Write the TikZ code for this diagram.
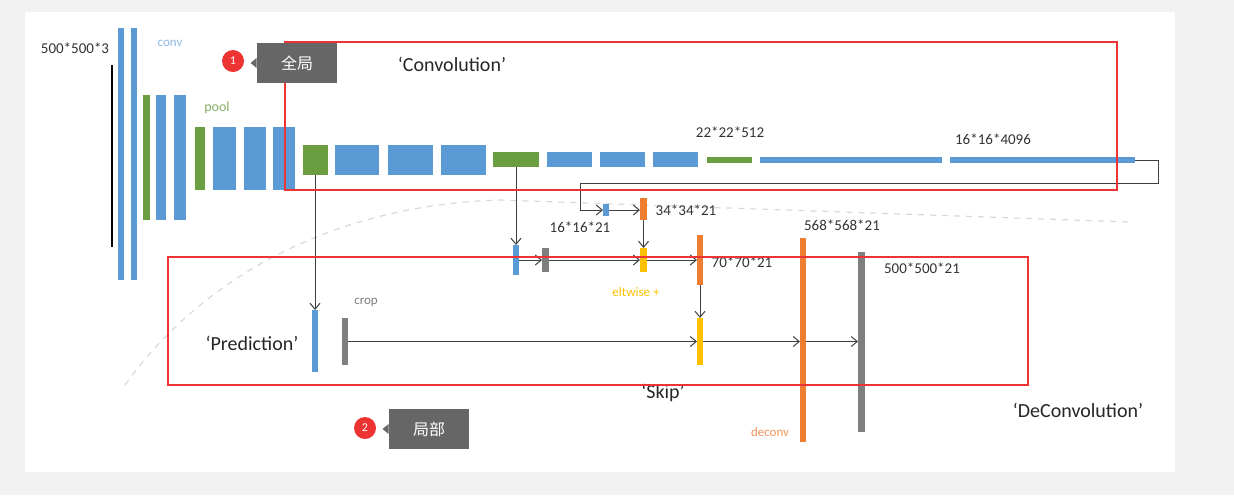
\documentclass[tikz,border=0pt]{standalone}
\usepackage{fontspec}
\setmainfont{Carlito}
\newfontfamily\cjk{Noto Sans CJK SC}
\usetikzlibrary{arrows.meta}
\definecolor{cb}{HTML}{5B9BD5}
\definecolor{cg}{HTML}{6A9E40}
\definecolor{co}{HTML}{ED7D31}
\definecolor{cy}{HTML}{FFC000}
\definecolor{cgr}{HTML}{7F7F7F}
\definecolor{cr}{HTML}{EE3333}
\definecolor{badge}{HTML}{666666}
\newcommand\bx[6]{\node[fill=#6,inner sep=0pt,outer sep=0pt,minimum width={(#4-#2)*0.5pt},minimum height={(#5-#3)*0.5pt}] (#1) at ({(#2+#4)/2},{(#3+#5)/2}) {};}
\begin{document}
\begin{tikzpicture}[x=0.5pt,y=-0.5pt,
  lab/.style={font=\fontsize{7.5}{8}\selectfont,text=black!80},
  big/.style={font=\fontsize{10}{11}\selectfont,text=black!85},
  arr/.style={draw=black!75,line width=0.5pt,-{Straight Barb[length=3pt,width=5pt]}},
  red box/.style={draw=cr,line width=1pt},
  badgebox/.style={fill=badge,text=white,font=\cjk\fontsize{8}{9}\selectfont,minimum width=40pt,minimum height=20pt,inner sep=0pt},
  num/.style={circle,fill=cr,text=white,font=\fontsize{6}{7}\selectfont,minimum size=11pt,inner sep=0pt}]
\useasboundingbox (0,0) rectangle (1234,495);
\fill[black!5] (0,0) rectangle (1234,495);
\fill[white] (25,12) rectangle (1175,472);
% dashed curve
\draw[black!15,dashed,line width=0.6pt] (125,385) .. controls (200,280) and (330,205) .. (500,200) -- (1130,222);
% input
\node[lab] (in) at (75,48) {500*500*3};
\coordinate (k1) at (112,65); \coordinate (k2) at (112,247);
\draw[line width=1pt] (k1) -- (k2);
\bx{c1}{118}{28}{124}{280}{cb} \bx{c2}{131}{28}{137}{280}{cb}
\node[font=\fontsize{6.5}{7}\selectfont,text=cb!70] (convl) at (170,43) {conv};
\bx{p1}{143}{95}{150}{220}{cg} \bx{c3}{156}{95}{166}{220}{cb} \bx{c4}{174}{95}{186}{220}{cb}
\node[font=\fontsize{7}{8}\selectfont,text=cg!80] (pooll) at (217,108) {pool};
\bx{p2}{195}{127}{205}{190}{cg} \bx{c5}{213}{127}{236}{190}{cb} \bx{c6}{244}{127}{266}{190}{cb} \bx{c7}{273}{127}{295}{190}{cb}
\bx{p3}{303}{145}{328}{175}{cg} \bx{c8}{335}{145}{379}{175}{cb} \bx{c9}{388}{145}{433}{175}{cb} \bx{c10}{441}{145}{486}{175}{cb}
\bx{p4}{493}{152}{539}{167}{cg} \bx{c11}{547}{152}{592}{167}{cb} \bx{c12}{600}{152}{645}{167}{cb} \bx{c13}{653}{152}{698}{167}{cb}
\bx{p5}{707}{157}{752}{163}{cg} \bx{f6}{760}{157}{942}{163}{cb} \bx{f7}{950}{157}{1135}{163}{cb}
\node[lab] (l1) at (730,132) {22*22*512};
\node[lab] (l2) at (993,139) {16*16*4096};
% 32s branch
\bx{s1}{603}{204}{609}{216}{cb}
\bx{o1}{640}{198}{647}{220}{co}
\draw[arr] (f7.east) -- (1158,160) -- (1158,183) -- (580,183) -- (580,210) -- (s1.west);
\draw[arr] (s1.east) -- (o1.west|-s1.east);
\node[lab] (l3) at (686,210) {34*34*21};
\node[lab] (l4) at (580,227) {16*16*21};
% pool4 branch
\bx{b2}{513}{245}{519}{275}{cb}
\bx{g2}{542}{248}{549}{272}{cgr}
\bx{y1}{640}{248}{647}{272}{cy}
\bx{o2}{697}{235}{703}{285}{co}
\draw[arr] (p4.south-|b2.north) -- (b2.north);
\draw[arr] (b2.east) -- (g2.west);
\draw[arr] (g2.east) -- (y1.west);
\draw[arr] (o1.south) -- (y1.north);
\draw[arr] (y1.east) -- (o2.west);
\node[lab] (l5) at (742,262) {70*70*21};
\node[font=\fontsize{6.5}{7}\selectfont,text=cy] (elt) at (636,292) {eltwise +};
% pool3 branch
\bx{y2}{697}{318}{703}{365}{cy}
\draw[arr] (o2.south) -- (y2.north);
\bx{b3}{312}{310}{318}{372}{cb}
\bx{g3}{342}{318}{348}{365}{cgr}
\draw[arr] (p3.south-|b3.north) -- (b3.north);
\node[font=\fontsize{6.5}{7}\selectfont,text=cgr] (cropl) at (366,302) {crop};
\draw[arr] (g3.east) -- (y2.west);
\bx{o3}{800}{238}{806}{442}{co}
\bx{g4}{858}{252}{865}{432}{cgr}
\draw[arr] (y2.east) -- (o3.west|-y2.east);
\draw[arr] (o3.east|-y2.east) -- (g4.west|-y2.east);
\node[lab] (l6) at (842,225) {568*568*21};
\node[lab] (l7) at (922,268) {500*500*21};
\node[font=\fontsize{6.5}{7}\selectfont,text=co!80] (dec) at (770,432) {deconv};
% titles
\node[big] (tconv) at (452,64) {‘Convolution’};
\node[big] (tpred) at (252,343) {‘Prediction’};
\node[big] (tskip) at (663,393) {‘Skip’};
\node[big] (tdec) at (1078,410) {‘DeConvolution’};
% red boxes
\draw[red box] (285,42) rectangle (1117,190);
\draw[red box] (168,257) rectangle (1028,385);
% badges
\node[num] (n1) at (233,61) {1};
\node[badgebox] (b1t) at (297,63) {全局};
\fill[badge] (b1t.west) ++(0,-5) -- ++(-6,5) -- ++(6,5) -- cycle;
\node[num] (n2) at (365,428) {2};
\node[badgebox] (b2t) at (429,429) {局部};
\fill[badge] (b2t.west) ++(0,-5) -- ++(-6,5) -- ++(6,5) -- cycle;
\end{tikzpicture}
\end{document}
